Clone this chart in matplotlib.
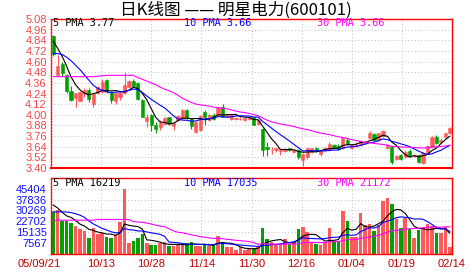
"""Daily K-line chart for 明星电力 (600101) with price and volume moving averages."""

import matplotlib

matplotlib.use("Agg")
import matplotlib.pyplot as plt
import matplotlib.transforms as mtransforms
import numpy as np
import pandas as pd

# ---- data ----------------------------------------------------------------
date_labels = ["05/09/21", "10/13", "10/28", "11/14", "11/30",
               "12/16", "01/04", "01/19", "02/14"]

open_ = [4.89, 4.45, 4.57, 4.45, 4.27, 4.19, 4.16, 4.24, 4.28, 4.12,
         4.25, 4.26, 4.39, 4.26, 4.16, 4.20, 4.25, 4.31, 4.38, 4.36,
         4.17, 3.93, 4.00, 3.89, 3.86, 3.90, 3.97, 3.87, 3.94, 3.96,
         4.05, 3.95, 3.81, 3.83, 4.03, 3.94, 4.00, 4.00, 4.09, 3.98,
         3.95, 3.95, 3.95, 3.94, 3.95, 3.97, 3.90, 3.84, 3.64, 3.60,
         3.60, 3.59, 3.59, 3.62, 3.58, 3.60, 3.49, 3.52, 3.58, 3.63,
         3.56, 3.60, 3.60, 3.66, 3.65, 3.62, 3.72, 3.62, 3.65, 3.66,
         3.70, 3.74, 3.78, 3.72, 3.76, 3.62, 3.64, 3.50, 3.55, 3.52,
         3.59, 3.535, 3.55, 3.46, 3.57, 3.64, 3.75, 3.69, 3.75, 3.79]
high = [4.90, 4.67, 4.60, 4.46, 4.33, 4.25, 4.27, 4.30, 4.30, 4.24,
        4.33, 4.40, 4.40, 4.27, 4.26, 4.27, 4.48, 4.39, 4.40, 4.37,
        4.18, 4.01, 4.01, 3.92, 3.94, 3.98, 3.98, 3.91, 4.00, 4.07,
        4.07, 3.96, 3.93, 4.00, 4.05, 4.01, 4.02, 4.09, 4.12, 4.01,
        4.01, 3.97, 3.97, 3.97, 3.98, 3.98, 3.95, 3.85, 3.69, 3.64,
        3.63, 3.62, 3.63, 3.63, 3.61, 3.61, 3.57, 3.63, 3.63, 3.64,
        3.60, 3.64, 3.69, 3.67, 3.67, 3.75, 3.74, 3.67, 3.69, 3.72,
        3.72, 3.82, 3.80, 3.80, 3.83, 3.67, 3.65, 3.55, 3.56, 3.60,
        3.61, 3.56, 3.56, 3.58, 3.66, 3.76, 3.77, 3.74, 3.80, 3.86]
low = [4.66, 4.44, 4.44, 4.25, 4.16, 4.09, 4.15, 4.20, 4.14, 4.09,
       4.24, 4.25, 4.25, 4.13, 4.12, 4.17, 4.24, 4.30, 4.32, 4.17,
       3.97, 3.86, 3.82, 3.80, 3.83, 3.89, 3.88, 3.83, 3.93, 3.95,
       3.95, 3.84, 3.79, 3.82, 3.89, 3.93, 3.94, 3.99, 3.97, 3.97,
       3.94, 3.94, 3.94, 3.93, 3.94, 3.88, 3.89, 3.53, 3.54, 3.56,
       3.58, 3.55, 3.58, 3.59, 3.57, 3.50, 3.42, 3.50, 3.57, 3.58,
       3.53, 3.59, 3.59, 3.62, 3.60, 3.61, 3.66, 3.61, 3.64, 3.65,
       3.69, 3.73, 3.71, 3.71, 3.75, 3.61, 3.45, 3.49, 3.49, 3.51,
       3.52, 3.52, 3.46, 3.45, 3.56, 3.63, 3.67, 3.68, 3.74, 3.78]
close = [4.68, 4.55, 4.47, 4.27, 4.17, 4.24, 4.26, 4.28, 4.18, 4.23,
         4.31, 4.37, 4.27, 4.17, 4.25, 4.25, 4.34, 4.38, 4.33, 4.18,
         3.98, 3.97, 3.89, 3.84, 3.91, 3.96, 3.90, 3.91, 3.99, 4.05,
         3.96, 3.87, 3.92, 3.99, 3.98, 4.00, 3.95, 4.08, 3.98, 4.00,
         4.00, 3.96, 3.955, 3.96, 3.97, 3.89, 3.94, 3.60, 3.61, 3.605,
         3.62, 3.60, 3.61, 3.60, 3.60, 3.52, 3.56, 3.62, 3.62, 3.59,
         3.59, 3.62, 3.67, 3.63, 3.61, 3.74, 3.67, 3.66, 3.66, 3.71,
         3.71, 3.80, 3.72, 3.79, 3.82, 3.66, 3.47, 3.54, 3.50, 3.58,
         3.53, 3.545, 3.47, 3.57, 3.65, 3.75, 3.68, 3.72, 3.79, 3.85]
volume = [29400, 30500, 22600, 23200, 21500, 19300, 17100, 16200, 11300, 17700,
          13600, 14300, 12000, 11300, 13200, 22200, 45404, 7500, 8800, 11300,
          13600, 7500, 6000, 6000, 7500, 8000, 5600, 5600, 6500, 6500,
          7500, 8000, 5300, 5300, 7100, 5300, 7100, 12500, 7500, 4800,
          4800, 2600, 4500, 2800, 3500, 4000, 4500, 18200, 10100, 8500,
          6500, 6600, 10600, 6500, 8000, 17500, 18800, 15400, 8500, 6500,
          5900, 8000, 17700, 9000, 9000, 30000, 23000, 11800, 12000, 28500,
          20000, 20500, 16000, 20000, 37200, 39000, 34500, 24400, 18300, 25000,
          17400, 11200, 16500, 18000, 20500, 19500, 14400, 14500, 18800, 4800]

# moving-average values before a full window exists (from earlier sessions)
ma5_head = [4.83, 4.75, 4.66, 4.55]
ma10_head = [4.69, 4.69, 4.68, 4.65, 4.61, 4.56, 4.51, 4.45, 4.39]
ma30_head = [4.43] * 10 + [4.435, 4.44] + [4.445] * 7 + \
            [4.42, 4.40, 4.38, 4.36, 4.34, 4.31, 4.29, 4.27, 4.25, 4.22]
vma5_head = [34100, 32000, 29000, 26500]
vma10_head = [29300, 29300, 29300, 29200, 28800, 28000, 27000, 25500, 23000]
vma30_head = [23500] * 10 + [24000] * 8 + \
             [22500, 22200, 22000, 21500, 20800, 20000, 19400, 19000, 17500, 16000, 15000]

price_ticks = [3.40, 3.52, 3.64, 3.76, 3.88, 4.00, 4.12, 4.24,
               4.36, 4.48, 4.60, 4.72, 4.84, 4.96, 5.08]
volume_ticks = [7567, 15135, 22702, 30269, 37836, 45404]
price_legend = ["3.77", "3.66", "3.66"]
volume_legend = ["16219", "17035", "21172"]

UP = "#ff5a5a"
DOWN = "#00a000"
FRAME = "#ff0000"
MA_COLORS = ["#000000", "#0000ff", "#ff00ff"]
MONO = "DejaVu Sans Mono"


def moving_avg(values, n, head):
    out = pd.Series(values, dtype=float).rolling(n).mean().to_numpy()
    out[: n - 1] = head
    return out


def style_axes(ax, label_color):
    for side in ("top", "right", "bottom"):
        ax.spines[side].set_color(FRAME)
        ax.spines[side].set_linewidth(1.0)
    ax.spines["left"].set_color(FRAME)
    ax.spines["left"].set_linestyle((0, (1, 1.2)))
    ax.spines["left"].set_linewidth(1.0)
    ax.grid(True, color="#c8c8c8", linestyle=(0, (1, 2)), linewidth=0.8)
    ax.set_axisbelow(True)
    ax.tick_params(length=0, pad=3, labelsize=8, labelcolor=label_color)
    for lbl in ax.get_yticklabels():
        lbl.set_family("Liberation Sans")


def legend_row(ax, y, names, values):
    for x, name, val, color in zip([0.005, 0.332, 0.663], names, values, MA_COLORS):
        ax.text(x, y, f"{name} {val}", transform=ax.transAxes, color=color,
                family=MONO, fontsize=7.4, va="center", ha="left")


def main() -> None:
    n = len(close)
    x = np.arange(n) + 0.5
    o = np.array(open_)
    c = np.array(close)
    up = c >= o
    colors = np.where(up, UP, DOWN)

    fig = plt.figure(figsize=(4.72, 2.73), dpi=100)
    fig.patch.set_facecolor("white")
    fig.text(0.5, 1 - 10 / 273, "日K线图 —— 明星电力(600101)", ha="center", va="center",
             fontsize=12, family=["Noto Sans CJK SC", "DejaVu Sans"])

    grid_x = np.linspace(0, n, len(date_labels))

    # price panel
    ax = fig.add_axes([51 / 472, 1 - 168 / 273, 401 / 472, 149 / 273])
    body_low = np.minimum(o, c)
    body_h = np.abs(c - o)
    ax.vlines(x, low, high, colors=colors, linewidth=0.8, zorder=2)
    ax.bar(x, body_h, bottom=body_low, width=0.72, color=colors,
           edgecolor=colors, linewidth=0.4, zorder=3)
    for head, win, col in zip([ma5_head, ma10_head, ma30_head], [5, 10, 30], MA_COLORS):
        ax.plot(x, moving_avg(close, win, head), color=col, linewidth=0.8, zorder=4)
    ax.set_xlim(0, n)
    ax.set_ylim(price_ticks[0], price_ticks[-1])
    ax.set_yticks(price_ticks)
    ax.set_yticklabels([f"{t:.2f}" for t in price_ticks])
    ax.set_xticks(grid_x)
    ax.set_xticklabels([])
    style_axes(ax, "#f04848")
    ax.spines["bottom"].set_linewidth(1.5)
    legend_row(ax, 0.970, ["5 PMA", "10 PMA", "30 PMA"], price_legend)

    # volume panel
    vx = fig.add_axes([51 / 472, 1 - 253.8 / 273, 401 / 472, 75.8 / 273])
    vx.bar(x, volume, width=0.8, color=colors, linewidth=0, zorder=2)
    for head, win, col in zip([vma5_head, vma10_head, vma30_head], [5, 10, 30], MA_COLORS):
        vx.plot(x, moving_avg(volume, win, head), color=col, linewidth=0.8, zorder=4)
    vx.set_xlim(0, n)
    vx.set_ylim(0, volume_ticks[0] * 7)
    vx.set_yticks(volume_ticks)
    vx.set_yticklabels([str(t) for t in volume_ticks])
    vx.set_xticks(grid_x)
    vx.set_xticklabels(date_labels)
    style_axes(vx, "#1010ff")
    vx.tick_params(axis="x", labelcolor="#c00000", pad=4)
    for lbl in vx.get_xticklabels():
        lbl.set_family("Liberation Sans")
        lbl.set_fontsize(8)
    first = vx.get_xticklabels()[0]
    first.set_transform(first.get_transform() +
                        mtransforms.ScaledTranslation(-0.12, 0, fig.dpi_scale_trans))
    legend_row(vx, 0.934, ["5 PMA", "10 PMA", "30 PMA"], volume_legend)

    fig.savefig("out.png", dpi=100, facecolor="white")
    plt.close(fig)


if __name__ == "__main__":
    main()
